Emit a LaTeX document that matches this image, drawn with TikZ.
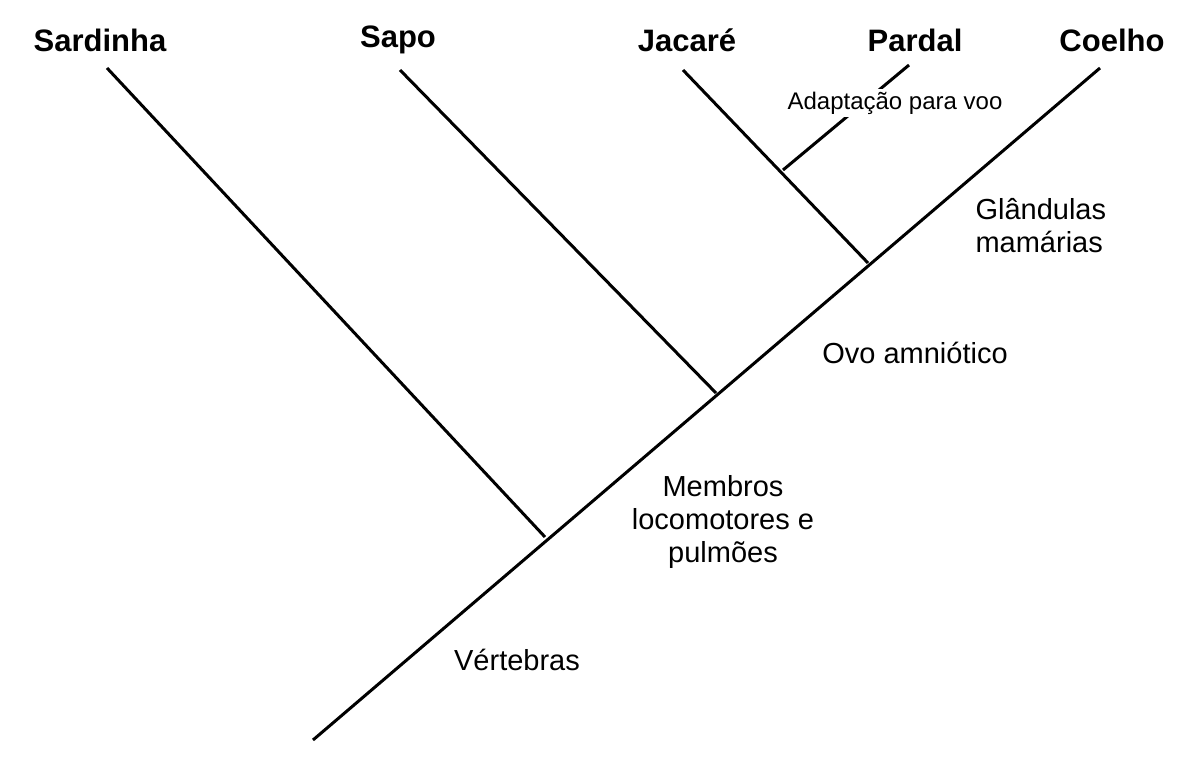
\documentclass[tikz,border=0pt]{standalone}
\usepackage{fontspec}
\setmainfont{Liberation Sans}
\begin{document}
\begin{tikzpicture}[x=1pt,y=-1pt,
    taxon/.style={font=\fontsize{31}{34}\selectfont\bfseries},
    trait/.style={font=\fontsize{29}{33}\selectfont, align=center},
    branch/.style={line width=3pt}]
    \useasboundingbox (0,0) rectangle (1200,757);
    % Main stem and branch points
    \coordinate (root) at (313,740);
    \coordinate (b1) at (545,537);
    \coordinate (b2) at (716,393);
    \coordinate (b3) at (868,263);
    \coordinate (b4) at (783,170);
    % Taxa
    \node[taxon] (sardinha) at (100,40) {Sardinha};
    \node[taxon] (sapo) at (398,40) {Sapo};
    \node[taxon] (jacare) at (687,40) {Jacaré};
    \node[taxon] (pardal) at (915,40) {Pardal};
    \node[taxon] (coelho) at (1112,40) {Coelho};
    \coordinate (tsardinha) at (107,68);
    \coordinate (tsapo) at (400,70);
    \coordinate (tjacare) at (683,70);
    \coordinate (tpardal) at (909,65);
    \coordinate (tcoelho) at (1100,68);
    % Branches
    \draw[branch] (root) -- (tcoelho);
    \draw[branch] (b1) -- (tsardinha);
    \draw[branch] (b2) -- (tsapo);
    \draw[branch] (b3) -- (tjacare);
    \draw[branch] (b4) -- (tpardal);
    % Traits
    \node[font=\fontsize{24}{28}\selectfont, fill=white, inner sep=3pt] (voo) at (895,103) {Adaptação para voo};
    \node[trait, align=left, anchor=west] (glandulas) at (972,226) {Glândulas\\mamárias};
    \node[trait] (ovo) at (915,353) {Ovo amniótico};
    \node[trait] (membros) at (723,522) {Membros\\locomotores e\\pulmões};
    \node[trait] (vertebras) at (517,660) {Vértebras};
\end{tikzpicture}
\end{document}
